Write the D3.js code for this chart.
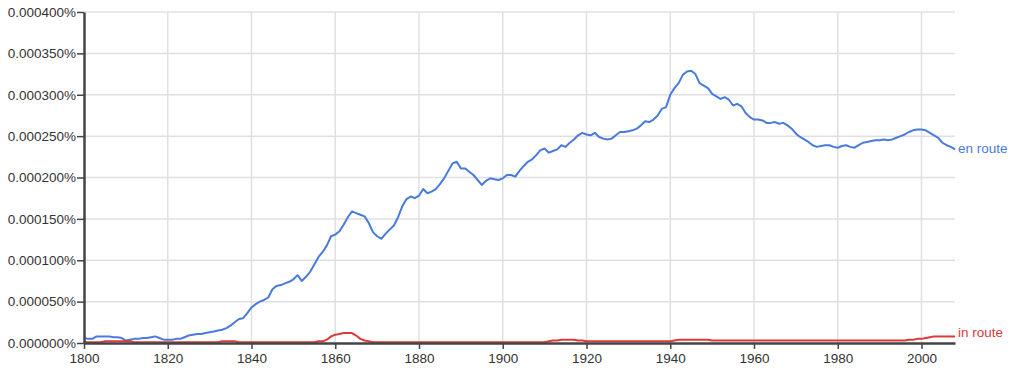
<!DOCTYPE html>
<html>
<head>
<meta charset="utf-8">
<script src="https://cdn.jsdelivr.net/npm/d3@7"></script>
<style>
  body { margin: 0; background: #fff; }
  text { font-family: "Liberation Sans", Arial, sans-serif; }
</style>
</head>
<body>
<div id="chart-area"></div>
<script>
const SVG_WIDTH = 1024
const SVG_HEIGHT = 371
const MARGIN = { left: 84, right: 69, top: 12, bottom: 28 }

// values are in millionths of a percent (50 -> 0.000050%)
const YEARS = d3.range(1800, 2009)
const EN_ROUTE = [
  6, 5, 5, 8, 8, 8, 8, 7, 7, 6,
  3, 4, 5, 5, 6, 6, 7, 8, 6, 4,
  4, 4, 5, 5, 7, 9, 10, 11, 11, 12,
  13, 14, 15, 16, 18, 21, 25, 29, 30, 36,
  43, 47, 50, 52, 55, 65, 69, 70, 72, 74,
  77, 82, 75, 80, 86, 95, 104, 110, 118, 129,
  131, 135, 143, 152, 159, 157, 155, 153, 145, 134,
  129, 126, 132, 137, 142, 152, 165, 174, 177, 175,
  178, 186, 181, 183, 186, 192, 199, 208, 217, 219,
  211, 211, 207, 203, 197, 191, 196, 199, 198, 197,
  199, 203, 203, 201, 208, 214, 219, 222, 227, 233,
  235, 230, 232, 234, 239, 237, 242, 246, 251, 254,
  252, 251, 254, 249, 247, 246, 247, 251, 255, 255,
  256, 257, 259, 263, 268, 267, 270, 275, 283, 285,
  300, 308, 314, 324, 328, 329, 325, 314, 311, 308,
  301, 298, 295, 297, 294, 287, 289, 286, 278, 273,
  270, 270, 269, 266, 266, 267, 265, 266, 263, 259,
  253, 249, 246, 243, 239, 237, 238, 239, 239, 237,
  236, 238, 239, 237, 236, 239, 242, 243, 244, 245,
  245, 246, 245, 246, 248, 250, 252, 255, 257, 258,
  258, 257, 254, 251, 248, 242, 239, 237, 234
]
const IN_ROUTE = [
  1, 1, 1, 1, 1, 2, 2, 2, 2, 2,
  2, 2, 1, 1, 1, 1, 1, 1, 1, 1,
  1, 1, 1, 1, 1, 1, 1, 1, 1, 1,
  1, 1, 1, 2, 2, 2, 2, 1, 1, 1,
  1, 1, 1, 1, 1, 1, 1, 1, 1, 1,
  1, 1, 1, 1, 1, 1, 2, 2, 4, 8,
  10, 11, 12, 12, 12, 9, 5, 3, 2, 1,
  1, 1, 1, 1, 1, 1, 1, 1, 1, 1,
  1, 1, 1, 1, 1, 1, 1, 1, 1, 1,
  1, 1, 1, 1, 1, 1, 1, 1, 1, 1,
  1, 1, 1, 1, 1, 1, 1, 1, 1, 1,
  1, 2, 3, 3, 4, 4, 4, 4, 3, 3,
  2, 2, 2, 2, 2, 2, 2, 2, 2, 2,
  2, 2, 2, 2, 2, 2, 2, 2, 2, 2,
  2, 3, 4, 4, 4, 4, 4, 4, 4, 4,
  3, 3, 3, 3, 3, 3, 3, 3, 3, 3,
  3, 3, 3, 3, 3, 3, 3, 3, 3, 3,
  3, 3, 3, 3, 3, 3, 3, 3, 3, 3,
  3, 3, 3, 3, 3, 3, 3, 3, 3, 3,
  3, 3, 3, 3, 3, 3, 3, 4, 4, 5,
  5, 6, 7, 8, 8, 8, 8, 8, 8
]
const SERIES_NAMES = ["en route", "in route"]
const COLORS = ["#4a7bdc", "#dc3a3a"]
const Y_TICKS = [0, 50, 100, 150, 200, 250, 300, 350, 400]
const X_TICKS = [1800, 1820, 1840, 1860, 1880, 1900, 1920, 1940, 1960, 1980, 2000]

const G_WIDTH = SVG_WIDTH - MARGIN.left - MARGIN.right
const G_HEIGHT = SVG_HEIGHT - MARGIN.top - MARGIN.bottom

const svg = d3.select("#chart-area").append("svg")
  .attr("width", SVG_WIDTH)
  .attr("height", SVG_HEIGHT)

const g = svg.append("g")
  .attr("transform", `translate(${MARGIN.left}, ${MARGIN.top})`)

const x = d3.scaleLinear()
  .domain([1800, 2008])
  .range([0, G_WIDTH])

const y = d3.scaleLinear()
  .domain([0, 400])
  .range([G_HEIGHT, 0])

// grid
g.append("g").selectAll("line.h")
  .data(Y_TICKS.slice(1))
  .enter().append("line")
  .attr("x1", 0).attr("x2", G_WIDTH)
  .attr("y1", d => y(d)).attr("y2", d => y(d))
  .attr("stroke", "#e0e0e0").attr("stroke-width", 1.5)

g.append("g").selectAll("line.v")
  .data(X_TICKS.slice(1))
  .enter().append("line")
  .attr("x1", d => x(d)).attr("x2", d => x(d))
  .attr("y1", 0).attr("y2", G_HEIGHT)
  .attr("stroke", "#e0e0e0").attr("stroke-width", 1.5)

// lines
const line = d3.line()
  .x((d, i) => x(YEARS[i]))
  .y(d => y(d))

;[EN_ROUTE, IN_ROUTE].forEach((vals, k) => {
  g.append("path")
    .datum(vals)
    .attr("fill", "none")
    .attr("stroke", COLORS[k])
    .attr("stroke-width", 2)
    .attr("stroke-linejoin", "round")
    .attr("d", line)

  g.append("text")
    .attr("x", G_WIDTH + 3)
    .attr("y", y(vals[vals.length - 1]) - (k == 1 ? 4 : 1)) // nudge so it doesn't sit on the axis
    .attr("dy", "0.35em")
    .attr("font-size", "13.5px")
    .attr("fill", COLORS[k])
    .text(SERIES_NAMES[k])
})

// axes
const xAxis = g.append("g")
  .attr("transform", `translate(0, ${G_HEIGHT})`)
  .call(d3.axisBottom(x).tickValues(X_TICKS).tickFormat(d3.format("d")).tickSize(6).tickSizeOuter(0))
xAxis.select(".domain").attr("stroke", "#444").attr("stroke-width", 2.5)
xAxis.selectAll(".tick line").attr("stroke", "#444").attr("stroke-width", 1.5)
xAxis.selectAll("text").attr("font-size", "13.5px").attr("fill", "#333").attr("dy", "0.85em")

const yAxis = g.append("g")
  .call(d3.axisLeft(y).tickValues(Y_TICKS).tickFormat(d => (d / 1e6).toFixed(6) + "%").tickSize(7).tickSizeOuter(0))
yAxis.select(".domain").attr("stroke", "#444").attr("stroke-width", 2.5)
yAxis.selectAll(".tick line").attr("stroke", "#444").attr("stroke-width", 1.5)
yAxis.selectAll("text").attr("font-size", "13.5px").attr("fill", "#333").attr("x", -8)
</script>
</body>
</html>
